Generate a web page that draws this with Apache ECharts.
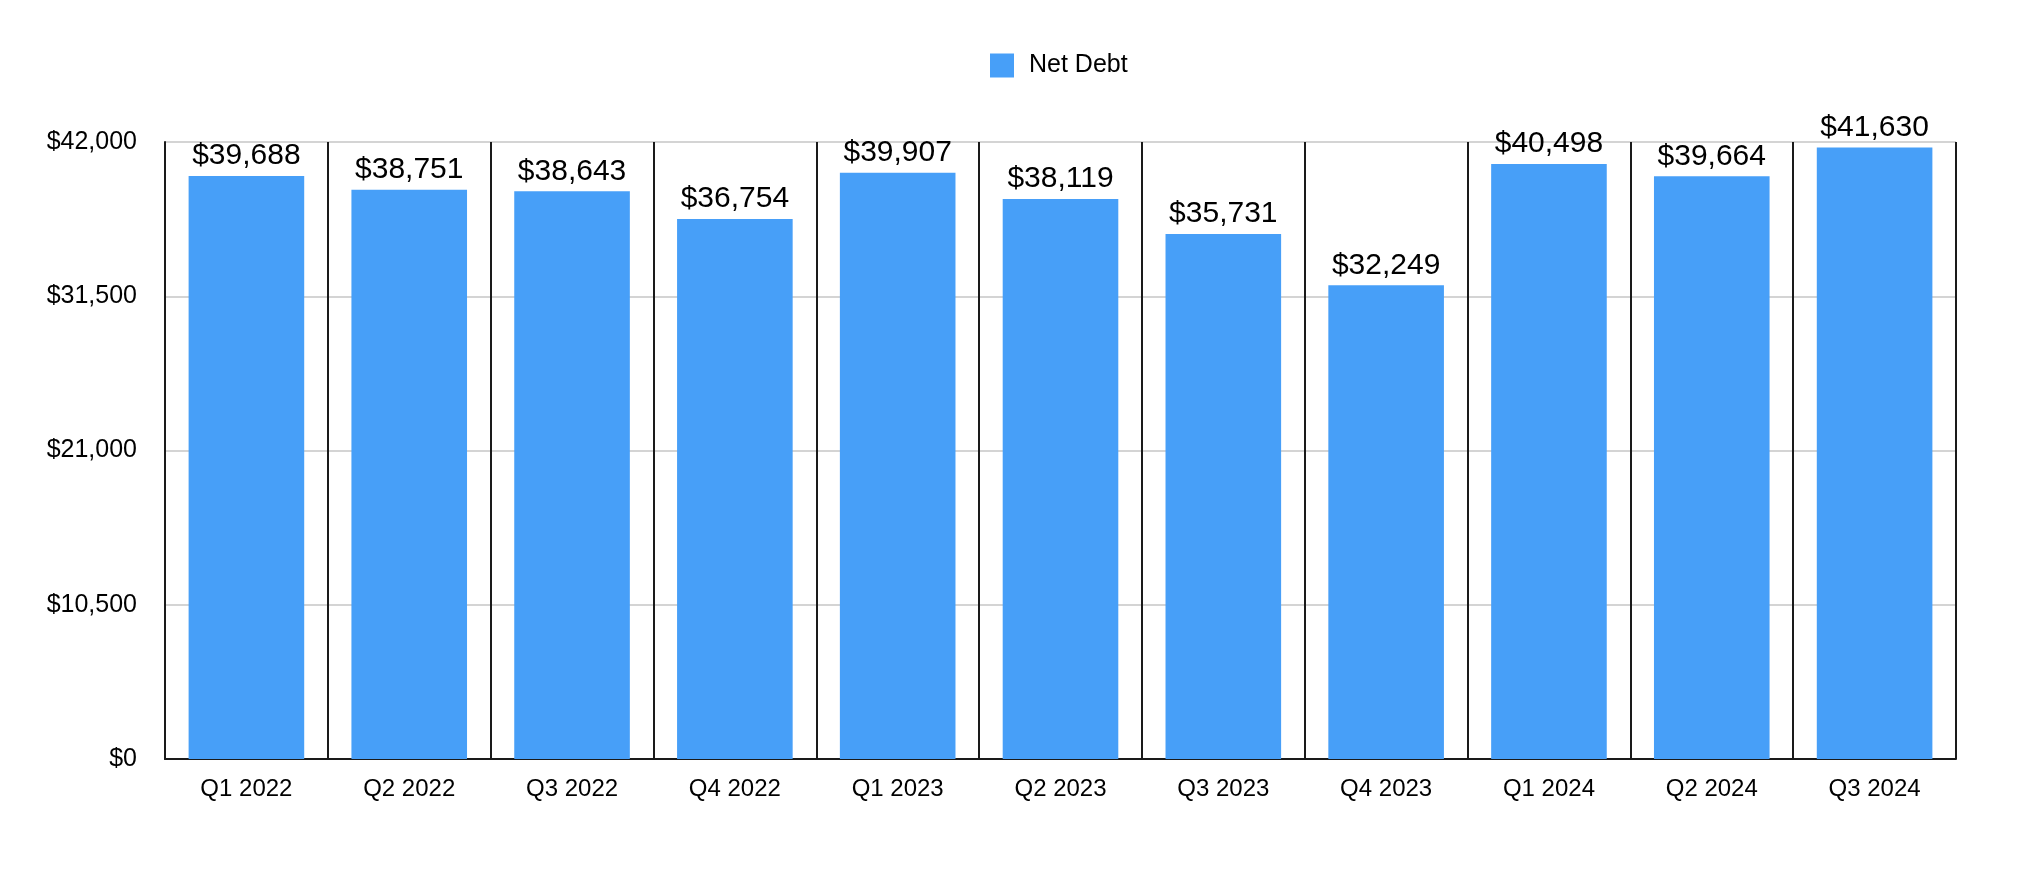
<!DOCTYPE html>
<html>
<head>
<meta charset="utf-8">
<script src="https://cdn.jsdelivr.net/npm/echarts@6/dist/echarts.min.js"></script>
<style>
  html, body { margin: 0; padding: 0; background: #fff; }
  #chart { width: 2040px; height: 870px; }
</style>
</head>
<body>
<div id="chart"></div>
<script>
// ===== 数据 =====
const quarters = ['Q1 2022', 'Q2 2022', 'Q3 2022', 'Q4 2022', 'Q1 2023', 'Q2 2023',
                  'Q3 2023', 'Q4 2023', 'Q1 2024', 'Q2 2024', 'Q3 2024'];
const netDebt = [39688, 38751, 38643, 36754, 39907, 38119, 35731, 32249, 40498, 39664, 41630];
const yTicks = [0, 10500, 21000, 31500, 42000];

const FONT = '"Liberation Sans", Arial, Helvetica, sans-serif';
const fmt = v => '$' + v.toLocaleString('en-US');

const chart = echarts.init(document.getElementById('chart'));

chart.setOption({
    animation: false,
    textStyle: { fontFamily: FONT },
    legend: {
        data: ['Net Debt'],
        top: 53,
        left: 990,
        padding: 0,
        itemWidth: 24,
        itemHeight: 24,
        icon: 'rect',
        textStyle: { fontSize: 25, color: '#000', fontFamily: FONT, padding: [0, 0, 0, 10] },
    },
    grid: { left: 165, right: 84, top: 142, bottom: 111, containLabel: false },
    xAxis: {
        type: 'category',
        data: quarters,
        boundaryGap: true,
        axisLine: { show: true, lineStyle: { color: '#1a1a1a', width: 2 } },
        axisTick: { show: false },
        axisLabel: { fontSize: 24, color: '#000', margin: 18, fontFamily: FONT },
        splitLine: { show: true, interval: 0, lineStyle: { color: '#1a1a1a', width: 2 } },
    },
    yAxis: {
        type: 'value',
        min: yTicks[0],
        max: yTicks[yTicks.length - 1],
        interval: yTicks[1] - yTicks[0],
        axisLine: { show: true, lineStyle: { color: '#1a1a1a', width: 2 } },
        axisTick: { show: false },
        axisLabel: { fontSize: 25, color: '#000', margin: 28, formatter: fmt, fontFamily: FONT },
        splitLine: { show: true, lineStyle: { color: '#c6c6c6', width: 1.5 } },
    },
    series: [{
        name: 'Net Debt',
        type: 'bar',
        data: netDebt,
        barCategoryGap: '29%',
        itemStyle: { color: '#479FF8' },
        label: {
            show: true,
            position: 'top',
            distance: 5,
            fontSize: 30,
            color: '#000',
            fontFamily: FONT,
            formatter: p => fmt(p.value),
        },
    }],
});
</script>
</body>
</html>
